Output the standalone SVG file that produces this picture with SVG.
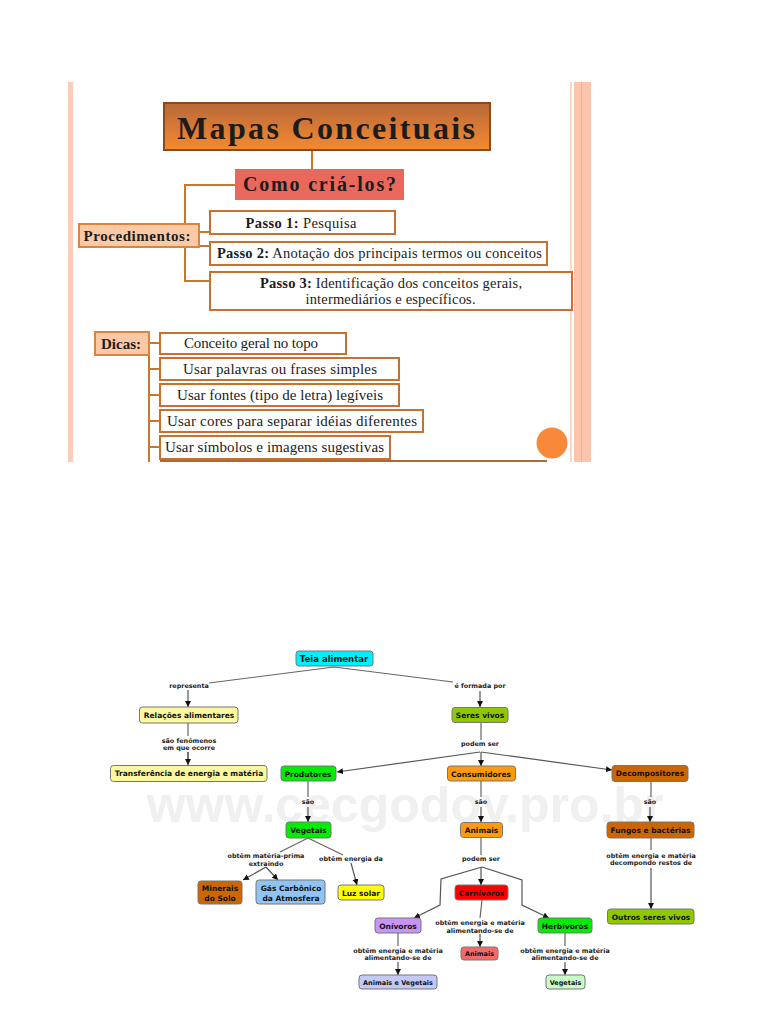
<svg xmlns="http://www.w3.org/2000/svg" width="768" height="1024" viewBox="0 0 768 1024">
<style>
text{font-family:"Liberation Serif",serif;fill:#1c1c1c;text-anchor:middle}
.t{fill:#fff;stroke:#c8702c;stroke-width:2}
.o{fill:#fcc9a6;stroke:#d9843f;stroke-width:2}
.s{font-size:14.500px}
.d{font-size:15px}
.h{font-size:15px;font-weight:bold}
.l{fill:none;stroke:#c8782e;stroke-width:2}
.m text{font-family:"DejaVu Sans",sans-serif;font-weight:bold;font-size:6.4px;fill:#222}
.c rect{stroke:#777;stroke-width:1}
.c text{font-family:"DejaVu Sans",sans-serif;font-weight:bold;font-size:7.5px;fill:#111}
.c text.x{font-size:6.5px}
.a{fill:none;stroke:#555;stroke-width:1.2;marker-end:url(#h)}
.b{fill:none;stroke:#666;stroke-width:1.2}
</style>
<defs>
<linearGradient id="g" x1="0" y1="0" x2="0" y2="1"><stop offset="0" stop-color="#b8683a"/><stop offset="1" stop-color="#f58a30"/></linearGradient>
<marker id="h" markerUnits="userSpaceOnUse" markerWidth="7" markerHeight="7" refX="6" refY="3" orient="auto"><path d="M0 0L6 3L0 6z" fill="#111"/></marker>
</defs>
<rect width="768" height="1024" fill="#fff"/>
<g id="slide">
<rect x="68" y="82" width="5" height="380" fill="#fbcdb8"/>
<rect x="570" y="82" width="2" height="380" fill="#fbd8c8"/>
<rect x="574" y="82" width="17" height="380" fill="#fcc4ab"/>
<rect x="581" y="82" width="1" height="380" fill="#f8ae90"/>
<circle cx="552" cy="443" r="15.500" fill="#f9893a"/>
</g>
<g id="slide-connectors">
<path class="l" d="M312 150V169M235 185H185V224M199 232H210M199 246H210M185 247V281H210"/>
<path class="l" d="M149 343H160M149 355V462M149 369H160M149 395H160M149 421H160M149 447H160"/>
</g>
<g id="titulo"><rect x="164" y="103" width="326" height="47" fill="url(#g)" stroke="#8b4a1c" stroke-width="2"/><text x="326" y="139" font-size="32" font-weight="bold" textLength="298" fill="#111">Mapas Conceituais</text></g>
<g id="como"><rect x="235" y="169" width="169" height="31" fill="#e8685c"/><text x="319.500" y="191" font-size="20" font-weight="bold" textLength="153">Como criá-los?</text></g>
<g id="procedimentos"><rect class="o" x="79" y="224" width="120" height="23"/><text class="h" x="137" y="241" textLength="107">Procedimentos:</text></g>
<g id="passo1"><rect class="t" x="210" y="211" width="185" height="23"/><text class="s" x="301" y="228" textLength="111"><tspan font-weight="bold">Passo 1:</tspan> Pesquisa</text></g>
<g id="passo2"><rect class="t" x="210" y="242" width="337" height="23"/><text class="s" x="379.500" y="258" textLength="325"><tspan font-weight="bold">Passo 2:</tspan> Anotação dos principais termos ou conceitos</text></g>
<g id="passo3"><rect class="t" x="210" y="272" width="362" height="38"/><text class="s" x="391" y="288" textLength="262"><tspan font-weight="bold">Passo 3:</tspan> Identificação dos conceitos gerais,</text><text class="s" x="390.500" y="304" textLength="170">intermediários e específicos.</text></g>
<g id="dicas"><rect class="o" x="95" y="332" width="54" height="23"/><text class="h" x="121" y="349" textLength="40">Dicas:</text></g>
<g id="d1"><rect class="t" x="160" y="333" width="186" height="21"/><text class="d" x="251" y="348" textLength="134">Conceito geral no topo</text></g>
<g id="d2"><rect class="t" x="160" y="358" width="239" height="22"/><text class="d" x="280" y="374" textLength="194">Usar palavras ou frases simples</text></g>
<g id="d3"><rect class="t" x="160" y="384" width="239" height="22"/><text class="d" x="280" y="400" textLength="206">Usar fontes (tipo de letra) legíveis</text></g>
<g id="d4"><rect class="t" x="160" y="410" width="263" height="22"/><text class="d" x="292" y="426" textLength="250">Usar cores para separar idéias diferentes</text></g>
<g id="d5"><rect class="t" x="160" y="436" width="230" height="23"/><text class="d" x="274.500" y="452" textLength="219">Usar símbolos e imagens sugestivas</text></g>
<path d="M160 461H547" stroke="#a86a3a" stroke-width="2" fill="none"/>
<text x="405" y="822" font-size="50" font-weight="bold" style="font-family:'Liberation Sans',sans-serif;fill:#f0f0f0">www.cecgodoy.pro.br</text>
<g id="connectors">
<path class="b" d="M334 667L209 683M334 667L453 682M188 723V736M188 752V762M308 781V797M481 722V740M481 781V797M651 781V797M481 838V855"/>
<path class="a" d="M188 690V707"/><path class="a" d="M480 691V707"/><path class="a" d="M188 752V765"/>
<path class="a" d="M480 752L337 772"/><path class="a" d="M481 752V766"/><path class="a" d="M481 752L612 770"/>
<path class="a" d="M308 807V822"/><path class="a" d="M481 807V822"/><path class="a" d="M650 807V822"/>
<path class="b" d="M308 838L280 852M308 838L343 855M651 838V850"/>
<path class="a" d="M266 867L243 880"/><path class="a" d="M266 867L278 880"/><path class="a" d="M351 863L357 885"/>
<path class="a" d="M651 868V909"/>
<path class="a" d="M481 867V885"/>
<path class="a" d="M482 867L441 879L440 905L414 918"/>
<path class="a" d="M482 867L522 880L522 905L549 918"/>
<path class="b" d="M398 933V946M482 900L480 918M565 933V946"/>
<path class="a" d="M398 962V975"/><path class="a" d="M480 934V947"/><path class="a" d="M565 962V975"/>
</g>
<g class="m" id="link-labels">
<text x="189" y="688">representa</text><text x="480" y="688">é formada por</text>
<text x="189" y="742.500">são fenômenos</text><text x="189" y="750">em que ocorre</text>
<text x="480" y="745.500">podem ser</text><text x="308" y="804">são</text><text x="481" y="804">são</text><text x="650" y="804">são</text>
<text x="266" y="858">obtêm matéria-prima</text><text x="266" y="865.500">extraindo</text><text x="351" y="861">obtêm energia da</text>
<text x="481" y="860.500">podem ser</text>
<text x="651" y="857.500">obtêm energia e matéria</text><text x="651" y="865">decompondo restos de</text>
<text x="398" y="952.500">obtêm energia e matéria</text><text x="398" y="960">alimentando-se de</text>
<text x="480" y="924.500">obtêm energia e matéria</text><text x="480" y="932.500">alimentando-se de</text>
<text x="565" y="952.500">obtêm energia e matéria</text><text x="565" y="960">alimentando-se de</text>
</g>
<g class="c" id="nodes">
<g id="teia"><rect x="296" y="651" width="77" height="15" rx="3" fill="#00f0ff"/><text x="334" y="662" style="font-size:8.500px">Teia alimentar</text></g>
<g id="relacoes"><rect x="139.500" y="707" width="98.500" height="16" rx="3" fill="#fbf8a0"/><text x="189" y="717.500">Relações alimentares</text></g>
<g id="transferencia"><rect x="110.500" y="765.500" width="156.500" height="16" rx="3" fill="#fbf8a0"/><text x="189" y="776">Transferência de energia e matéria</text></g>
<g id="seres"><rect x="452" y="707.500" width="56" height="15" rx="3" fill="#8fc800"/><text x="480" y="718">Seres vivos</text></g>
<g id="produtores"><rect x="281" y="766" width="55" height="15" rx="3" fill="#00ee00"/><text x="308" y="776.500">Produtores</text></g>
<g id="consumidores"><rect x="447.500" y="766" width="68" height="15" rx="3" fill="#ff9a0a"/><text x="481" y="776.500">Consumidores</text></g>
<g id="decompositores"><rect x="612" y="765.500" width="76" height="16" rx="3" fill="#cc6600"/><text x="650" y="775.500">Decompositores</text></g>
<g id="vegetais"><rect x="286" y="822" width="45" height="16" rx="3" fill="#00ee00"/><text x="308.500" y="832.500">Vegetais</text></g>
<g id="animais"><rect x="460.500" y="822.500" width="42" height="15" rx="3" fill="#ff9a0a"/><text x="481.500" y="833">Animais</text></g>
<g id="fungos"><rect x="607" y="822" width="87" height="16" rx="3" fill="#cc6600"/><text x="650.500" y="832.500">Fungos e bactérias</text></g>
<g id="minerais"><rect x="198" y="881" width="44" height="23" rx="3" fill="#cc6600"/><text x="220" y="890.500">Minerais</text><text x="220" y="900.500">do Solo</text></g>
<g id="gas"><rect x="256" y="880" width="69" height="24" rx="3" fill="#8fc4f5"/><text x="291" y="890.500">Gás Carbônico</text><text x="291" y="900.500">da Atmosfera</text></g>
<g id="luz"><rect x="338" y="885" width="46" height="15" rx="3" fill="#ffff00"/><text x="361" y="895.500">Luz solar</text></g>
<g id="carnivoros"><rect x="455" y="885" width="53" height="15" rx="3" fill="#ff0000"/><text x="481.500" y="895.500">Carnívoros</text></g>
<g id="outros"><rect x="607.500" y="909" width="86.500" height="15" rx="3" fill="#8fc800"/><text x="651" y="919.500">Outros seres vivos</text></g>
<g id="onivoros"><rect x="375" y="918" width="46" height="15" rx="3" fill="#c793f5"/><text x="398" y="928.500">Onívoros</text></g>
<g id="herbivoros"><rect x="538" y="918" width="54" height="15" rx="3" fill="#00ee00"/><text x="565" y="928.500">Herbívoros</text></g>
<g id="animais2"><rect x="461" y="947" width="37" height="13" rx="3" fill="#f46a6a"/><text class="x" x="479.500" y="956">Animais</text></g>
<g id="animais-vegetais"><rect x="359" y="975" width="78" height="14" rx="3" fill="#c4c8f5"/><text class="x" x="398" y="984.500">Animais e Vegetais</text></g>
<g id="vegetais2"><rect x="546" y="975" width="39" height="14" rx="3" fill="#c8fcc8"/><text class="x" x="565.500" y="984.500">Vegetais</text></g>
</g>
</svg>
